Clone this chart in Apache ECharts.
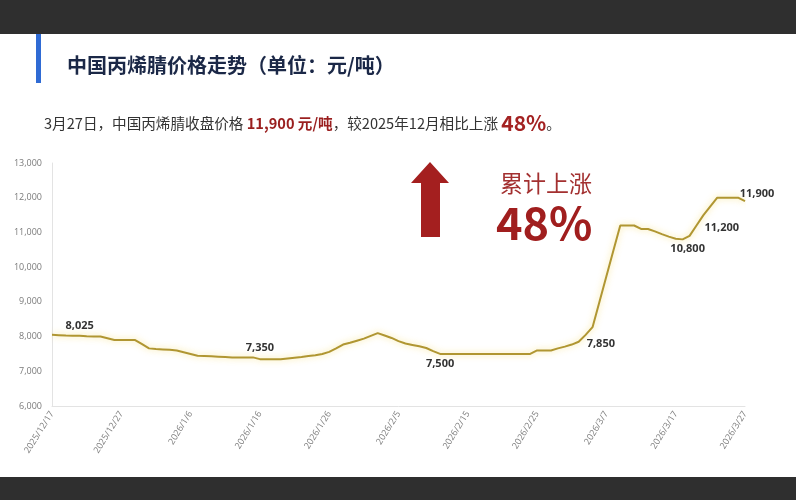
<!DOCTYPE html>
<html>
<head>
<meta charset="utf-8">
<script src="https://cdn.jsdelivr.net/npm/echarts@6/dist/echarts.min.js"></script>
<style>
html, body { margin: 0; padding: 0; background: #fff; }
#main { width: 796px; height: 500px; }
</style>
</head>
<body>
<div id="main"></div>
<script>
// 日期（2025/12/17 - 2026/3/27，逐日）
const dates = [
  '2025/12/17','2025/12/18','2025/12/19','2025/12/20','2025/12/21','2025/12/22','2025/12/23','2025/12/24',
  '2025/12/25','2025/12/26','2025/12/27','2025/12/28','2025/12/29','2025/12/30','2025/12/31',
  '2026/1/1','2026/1/2','2026/1/3','2026/1/4','2026/1/5','2026/1/6','2026/1/7','2026/1/8','2026/1/9','2026/1/10',
  '2026/1/11','2026/1/12','2026/1/13','2026/1/14','2026/1/15','2026/1/16','2026/1/17','2026/1/18','2026/1/19','2026/1/20',
  '2026/1/21','2026/1/22','2026/1/23','2026/1/24','2026/1/25','2026/1/26','2026/1/27','2026/1/28','2026/1/29','2026/1/30','2026/1/31',
  '2026/2/1','2026/2/2','2026/2/3','2026/2/4','2026/2/5','2026/2/6','2026/2/7','2026/2/8','2026/2/9','2026/2/10',
  '2026/2/11','2026/2/12','2026/2/13','2026/2/14','2026/2/15','2026/2/16','2026/2/17','2026/2/18','2026/2/19','2026/2/20',
  '2026/2/21','2026/2/22','2026/2/23','2026/2/24','2026/2/25','2026/2/26','2026/2/27','2026/2/28',
  '2026/3/1','2026/3/2','2026/3/3','2026/3/4','2026/3/5','2026/3/6','2026/3/7','2026/3/8','2026/3/9','2026/3/10',
  '2026/3/11','2026/3/12','2026/3/13','2026/3/14','2026/3/15','2026/3/16','2026/3/17','2026/3/18','2026/3/19','2026/3/20',
  '2026/3/21','2026/3/22','2026/3/23','2026/3/24','2026/3/25','2026/3/26','2026/3/27'
];

// 价格（元/吨）
const decPrices = [8050, 8040, 8030, 8025, 8025, 8010, 8000, 8000, 7950, 7900, 7900, 7900, 7900, 7780, 7660];
const janPrices = [7640, 7630, 7620, 7600, 7550, 7500, 7450, 7440, 7430, 7420, 7410, 7400, 7400, 7400, 7400, 7350,
  7350, 7350, 7350, 7370, 7390, 7410, 7440, 7460, 7500, 7560, 7660, 7770, 7820, 7880, 7940];
const febPrices = [8020, 8100, 8030, 7960, 7870, 7800, 7760, 7720, 7670, 7580, 7500, 7500, 7500, 7500, 7500, 7500,
  7500, 7500, 7500, 7500, 7500, 7500, 7500, 7500, 7600, 7600, 7600, 7660];
const marPrices = [7710, 7770, 7850, 8050, 8270, 9000, 9740, 10470, 11200, 11200, 11200, 11100, 11100, 11030, 10950,
  10880, 10820, 10800, 10900, 11200, 11500, 11750, 12000, 12000, 12000, 12000, 11900];
const prices = decPrices.concat(janPrices, febPrices, marPrices);

// 标注的数据点（下标）
const labelIdx = [4, 30, 56, 76, 91, 93, 100];

const yMin = 6000, yMax = 13000, yStep = 1000;

// 标签位置
const labelPos = {
  4: { position: 'top', distance: 4 },
  30: { position: 'top', distance: 6 },
  56: { position: 'bottom', distance: 4 },
  76: { position: 'right', distance: 8, offset: [0, 2] },
  91: { position: 'bottom', distance: 4, offset: [5, 0] },
  93: { position: 'right', distance: 8, offset: [0, 2] },
  100: { position: 'top', distance: 2, offset: [12, 0] }
};

const seriesData = prices.map((v, i) => {
  if (labelIdx.indexOf(i) < 0) return v;
  return {
    value: v,
    label: Object.assign({ show: true }, labelPos[i])
  };
});

const chart = echarts.init(document.getElementById('main'));
const cjk = "'Noto Sans CJK SC', sans-serif";

chart.setOption({
  backgroundColor: '#fff',
  animation: false,
  title: {
    text: '中国丙烯腈价格走势（单位：元/吨）',
    left: 62,
    top: 50,
    textStyle: { fontFamily: cjk, fontSize: 20, fontWeight: 'bold', color: '#1b2847' }
  },
  grid: { left: 52, right: 51, top: 163, bottom: 94 },
  xAxis: {
    type: 'category',
    data: dates,
    boundaryGap: false,
    axisLine: { lineStyle: { color: '#e3e3e3' } },
    axisTick: { show: false },
    axisLabel: {
      interval: 9,
      rotate: 58,
      fontSize: 9,
      color: '#7e7e7e',
      margin: 6,
      fontFamily: "'Open Sans', sans-serif"
    },
    splitLine: { show: false }
  },
  yAxis: {
    type: 'value',
    min: yMin,
    max: yMax,
    interval: yStep,
    axisLine: { show: true, lineStyle: { color: '#e3e3e3' } },
    axisTick: { show: false },
    splitLine: { show: false },
    axisLabel: {
      fontSize: 9,
      color: '#7a7a7a',
      margin: 10,
      fontFamily: "'Open Sans', sans-serif",
      formatter: v => v.toLocaleString('en-US')
    }
  },
  series: [{
    type: 'line',
    data: seriesData,
    symbol: 'circle',
    symbolSize: 0,
    showAllSymbol: true,
    itemStyle: { color: '#b09632' },
    lineStyle: {
      color: '#b09632',
      width: 2,
      shadowColor: 'rgba(245, 215, 90, 0.7)',
      shadowBlur: 6
    },
    label: {
      show: false,
      color: '#333',
      fontSize: 11,
      fontWeight: 'bold',
      fontFamily: "'Open Sans', sans-serif",
      formatter: p => p.value.toLocaleString('en-US')
    }
  }],
  graphic: [
    { type: 'rect', shape: { x: 0, y: 0, width: 796, height: 34 }, style: { fill: '#2f2f2f' }, z: 10 },
    { type: 'rect', shape: { x: 0, y: 477, width: 796, height: 23 }, style: { fill: '#2f2f2f' }, z: 10 },
    { type: 'rect', shape: { x: 36, y: 34, width: 5, height: 49 }, style: { fill: '#2f6bd4' } },
    {
      type: 'text', left: 44, top: 113,
      style: {
        text: '{a|3月27日，中国丙烯腈收盘价格 }{b|11,900 元/吨}{a|，较2025年12月相比上涨 }{c|48%}{a|。}',
        rich: {
          a: { fontSize: 14.6, fill: '#333', fontFamily: cjk },
          b: { fontSize: 14.6, fill: '#9a1f1f', fontWeight: 'bold', fontFamily: cjk },
          c: { fontSize: 21, fill: '#a32222', fontWeight: 'bold', fontFamily: cjk }
        }
      }
    },
    {
      type: 'polygon',
      shape: { points: [[430, 162], [449, 183], [440, 183], [440, 237], [421, 237], [421, 183], [411, 183]] },
      style: { fill: '#a41f1f' }
    },
    {
      type: 'text', left: 500, top: 172,
      style: { text: '累计上涨', fontSize: 23, fill: '#a33030', fontFamily: cjk }
    },
    {
      type: 'text', left: 496, top: 200,
      style: { text: '48%', fontSize: 45, fontWeight: 'bold', fill: '#a01e1e', fontFamily: cjk }
    }
  ]
});
</script>
</body>
</html>
